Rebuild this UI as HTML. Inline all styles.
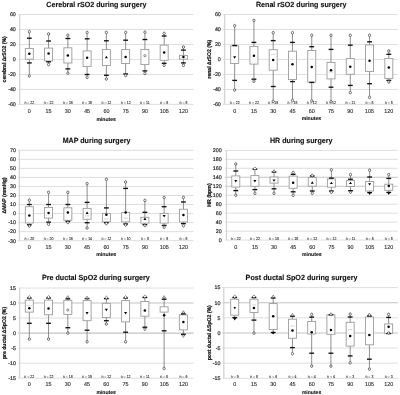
<!DOCTYPE html>
<html><head><meta charset="utf-8"><title>Box plots during surgery</title>
<style>
html,body{margin:0;padding:0;background:#fff;}
body{width:400px;height:395px;overflow:hidden;}
svg{display:block;filter:blur(0.35px);}
text{font-family:"Liberation Sans", Arial, sans-serif;text-rendering:geometricPrecision;}
.tt{font-size:7.5px;font-weight:bold;text-anchor:start;fill:#111;stroke:#111;stroke-width:0.12px;}
.yl{font-size:5.3px;text-anchor:end;fill:#2a2a2a;stroke:#2a2a2a;stroke-width:0.2px;}
.xl{font-size:5.8px;text-anchor:middle;fill:#2a2a2a;stroke:#2a2a2a;stroke-width:0.12px;}
.nl{font-size:4.2px;text-anchor:middle;fill:#444;stroke:#444;stroke-width:0.15px;}
.mn{font-size:5.3px;font-weight:bold;text-anchor:start;fill:#111;stroke:#111;stroke-width:0.1px;}
.yt{font-size:5.5px;font-weight:bold;text-anchor:start;fill:#111;stroke:#111;stroke-width:0.2px;}
</style></head>
<body>
<svg width="400" height="395" viewBox="0 0 400 395">
<rect width="400" height="395" fill="#fff"/>
<line x1="18.1" y1="14.5" x2="193.3" y2="14.5" stroke="#dadada" stroke-width="0.9"/>
<text x="15.8" y="16.3" class="yl">60</text>
<line x1="18.1" y1="29.48" x2="193.3" y2="29.48" stroke="#dadada" stroke-width="0.9"/>
<text x="15.8" y="31.28" class="yl">40</text>
<line x1="18.1" y1="44.47" x2="193.3" y2="44.47" stroke="#dadada" stroke-width="0.9"/>
<text x="15.8" y="46.27" class="yl">20</text>
<line x1="18.1" y1="59.45" x2="193.3" y2="59.45" stroke="#dadada" stroke-width="0.9"/>
<text x="15.8" y="61.25" class="yl">0</text>
<line x1="18.1" y1="74.43" x2="193.3" y2="74.43" stroke="#dadada" stroke-width="0.9"/>
<text x="15.8" y="76.23" class="yl">-20</text>
<line x1="18.1" y1="89.42" x2="193.3" y2="89.42" stroke="#dadada" stroke-width="0.9"/>
<text x="15.8" y="91.22" class="yl">-40</text>
<line x1="18.1" y1="104.4" x2="193.3" y2="104.4" stroke="#dadada" stroke-width="0.9"/>
<text x="15.8" y="106.2" class="yl">-60</text>
<line x1="19.7" y1="14.5" x2="19.7" y2="104.4" stroke="#d4d4d4" stroke-width="1.3"/>
<line x1="29.33" y1="32.9" x2="29.33" y2="74.7" stroke="#6a6a6a" stroke-width="0.75"/>
<rect x="25.33" y="48.4" width="8" height="10.8" fill="#fff" stroke="#9c9c9c" stroke-width="0.9"/>
<rect x="26.93" y="37.53" width="4.8" height="1.35" fill="#111"/>
<rect x="26.93" y="62.23" width="4.8" height="1.35" fill="#111"/>
<ellipse cx="29.33" cy="31.7" rx="1.1" ry="1.35" fill="#fff" stroke="#3a3a3a" stroke-width="0.7"/>
<ellipse cx="29.33" cy="75.9" rx="1.1" ry="1.35" fill="#fff" stroke="#3a3a3a" stroke-width="0.7"/>
<circle cx="29.33" cy="53.7" r="1.25" fill="#000" stroke="#000" stroke-width="0"/>
<text transform="translate(29.33 113) scale(0.93 1)" class="xl">0</text>
<text transform="translate(29.33 104.2) scale(0.84 1)" class="nl">n = 22</text>
<line x1="48.59" y1="35.2" x2="48.59" y2="63.3" stroke="#6a6a6a" stroke-width="0.75"/>
<rect x="44.59" y="48.1" width="8" height="12.9" fill="#fff" stroke="#9c9c9c" stroke-width="0.9"/>
<rect x="46.19" y="40.33" width="4.8" height="1.35" fill="#111"/>
<rect x="46.19" y="61.13" width="4.8" height="1.35" fill="#111"/>
<ellipse cx="48.59" cy="34" rx="1.1" ry="1.35" fill="#fff" stroke="#3a3a3a" stroke-width="0.7"/>
<ellipse cx="48.59" cy="64.5" rx="1.1" ry="1.35" fill="#fff" stroke="#3a3a3a" stroke-width="0.7"/>
<circle cx="48.59" cy="53.4" r="1.25" fill="#000" stroke="#000" stroke-width="0"/>
<text transform="translate(48.59 113) scale(0.93 1)" class="xl">15</text>
<text transform="translate(48.59 104.2) scale(0.84 1)" class="nl">n = 22</text>
<line x1="67.86" y1="36.4" x2="67.86" y2="72" stroke="#6a6a6a" stroke-width="0.75"/>
<rect x="63.86" y="47.8" width="8" height="15.2" fill="#fff" stroke="#9c9c9c" stroke-width="0.9"/>
<rect x="65.46" y="37.83" width="4.8" height="1.35" fill="#111"/>
<rect x="65.46" y="68.23" width="4.8" height="1.35" fill="#111"/>
<ellipse cx="67.86" cy="35.2" rx="1.1" ry="1.35" fill="#fff" stroke="#3a3a3a" stroke-width="0.7"/>
<ellipse cx="67.86" cy="73.2" rx="1.1" ry="1.35" fill="#fff" stroke="#3a3a3a" stroke-width="0.7"/>
<circle cx="67.86" cy="55.4" r="1.25" fill="#000" stroke="#000" stroke-width="0"/>
<text transform="translate(67.86 113) scale(0.93 1)" class="xl">30</text>
<text transform="translate(67.86 104.2) scale(0.84 1)" class="nl">n = 18</text>
<line x1="87.12" y1="33.7" x2="87.12" y2="76.2" stroke="#6a6a6a" stroke-width="0.75"/>
<rect x="83.12" y="50.9" width="8" height="15.5" fill="#fff" stroke="#9c9c9c" stroke-width="0.9"/>
<rect x="84.72" y="38.13" width="4.8" height="1.35" fill="#111"/>
<rect x="84.72" y="73.83" width="4.8" height="1.35" fill="#111"/>
<ellipse cx="87.12" cy="32.5" rx="1.1" ry="1.35" fill="#fff" stroke="#3a3a3a" stroke-width="0.7"/>
<ellipse cx="87.12" cy="77.4" rx="1.1" ry="1.35" fill="#fff" stroke="#3a3a3a" stroke-width="0.7"/>
<circle cx="87.12" cy="57.7" r="1.25" fill="#000" stroke="#000" stroke-width="0"/>
<text transform="translate(87.12 113) scale(0.93 1)" class="xl">45</text>
<text transform="translate(87.12 104.2) scale(0.84 1)" class="nl">n = 15</text>
<line x1="106.38" y1="33.7" x2="106.38" y2="77.8" stroke="#6a6a6a" stroke-width="0.75"/>
<rect x="102.38" y="49.6" width="8" height="16" fill="#fff" stroke="#9c9c9c" stroke-width="0.9"/>
<rect x="103.98" y="40.13" width="4.8" height="1.35" fill="#111"/>
<rect x="103.98" y="74.63" width="4.8" height="1.35" fill="#111"/>
<ellipse cx="106.38" cy="32.5" rx="1.1" ry="1.35" fill="#fff" stroke="#3a3a3a" stroke-width="0.7"/>
<ellipse cx="106.38" cy="79" rx="1.1" ry="1.35" fill="#fff" stroke="#3a3a3a" stroke-width="0.7"/>
<polygon points="106.38,55.8 104.88,58.2 107.88,58.2" fill="#000" stroke="#000" stroke-width="0"/>
<text transform="translate(106.38 113) scale(0.93 1)" class="xl">60</text>
<text transform="translate(106.38 104.2) scale(0.84 1)" class="nl">n = 12</text>
<line x1="125.65" y1="33.7" x2="125.65" y2="74.3" stroke="#6a6a6a" stroke-width="0.75"/>
<rect x="121.65" y="49.6" width="8" height="13.9" fill="#fff" stroke="#9c9c9c" stroke-width="0.9"/>
<rect x="123.25" y="39.53" width="4.8" height="1.35" fill="#111"/>
<rect x="123.25" y="73.33" width="4.8" height="1.35" fill="#111"/>
<ellipse cx="125.65" cy="32.5" rx="1.1" ry="1.35" fill="#fff" stroke="#3a3a3a" stroke-width="0.7"/>
<ellipse cx="125.65" cy="75.5" rx="1.1" ry="1.35" fill="#fff" stroke="#3a3a3a" stroke-width="0.7"/>
<circle cx="125.65" cy="56.9" r="1.25" fill="#000" stroke="#000" stroke-width="0"/>
<text transform="translate(125.65 113) scale(0.93 1)" class="xl">75</text>
<text transform="translate(125.65 104.2) scale(0.84 1)" class="nl">n = 12</text>
<line x1="144.91" y1="33.4" x2="144.91" y2="72.3" stroke="#6a6a6a" stroke-width="0.75"/>
<rect x="140.91" y="49.6" width="8" height="14.8" fill="#fff" stroke="#9c9c9c" stroke-width="0.9"/>
<rect x="142.51" y="38.83" width="4.8" height="1.35" fill="#111"/>
<rect x="142.51" y="70.23" width="4.8" height="1.35" fill="#111"/>
<ellipse cx="144.91" cy="32.2" rx="1.1" ry="1.35" fill="#fff" stroke="#3a3a3a" stroke-width="0.7"/>
<ellipse cx="144.91" cy="73.5" rx="1.1" ry="1.35" fill="#fff" stroke="#3a3a3a" stroke-width="0.7"/>
<circle cx="144.91" cy="55.7" r="1.1" fill="#fff" stroke="#444" stroke-width="0.6"/>
<text transform="translate(144.91 113) scale(0.93 1)" class="xl">90</text>
<text transform="translate(144.91 104.2) scale(0.84 1)" class="nl">n = 11</text>
<line x1="164.17" y1="34.6" x2="164.17" y2="64.1" stroke="#6a6a6a" stroke-width="0.75"/>
<rect x="160.17" y="45.1" width="8" height="15.2" fill="#fff" stroke="#9c9c9c" stroke-width="0.9"/>
<rect x="161.77" y="35.33" width="4.8" height="1.35" fill="#111"/>
<rect x="161.77" y="62.63" width="4.8" height="1.35" fill="#111"/>
<ellipse cx="164.17" cy="33.4" rx="1.1" ry="1.35" fill="#fff" stroke="#3a3a3a" stroke-width="0.7"/>
<ellipse cx="164.17" cy="65.3" rx="1.1" ry="1.35" fill="#fff" stroke="#3a3a3a" stroke-width="0.7"/>
<circle cx="164.17" cy="52.4" r="1.25" fill="#000" stroke="#000" stroke-width="0"/>
<text transform="translate(164.17 113) scale(0.93 1)" class="xl">105</text>
<text transform="translate(164.17 104.2) scale(0.84 1)" class="nl">n = 8</text>
<line x1="183.43" y1="48.2" x2="183.43" y2="64.1" stroke="#6a6a6a" stroke-width="0.75"/>
<rect x="179.43" y="55.4" width="8" height="3.8" fill="#fff" stroke="#9c9c9c" stroke-width="0.9"/>
<rect x="181.03" y="49.43" width="4.8" height="1.35" fill="#111"/>
<rect x="181.03" y="62.23" width="4.8" height="1.35" fill="#111"/>
<ellipse cx="183.43" cy="47" rx="1.1" ry="1.35" fill="#fff" stroke="#3a3a3a" stroke-width="0.7"/>
<ellipse cx="183.43" cy="65.3" rx="1.1" ry="1.35" fill="#fff" stroke="#3a3a3a" stroke-width="0.7"/>
<circle cx="183.43" cy="56.9" r="1.25" fill="#000" stroke="#000" stroke-width="0"/>
<text transform="translate(183.43 113) scale(0.93 1)" class="xl">120</text>
<text transform="translate(183.43 104.2) scale(0.84 1)" class="nl">n = 5</text>
<text id="tt1" x="46.36" y="6.87" class="tt" textLength="100.06" lengthAdjust="spacingAndGlyphs">Cerebral rSO2 during surgery</text>
<text id="mn1" x="96.45" y="120.63" class="mn" textLength="19.42" lengthAdjust="spacingAndGlyphs">minutes</text>
<text id="yt1" transform="translate(5.5 82.38) rotate(-90)" x="0" y="0" class="yt" textLength="46.06" lengthAdjust="spacingAndGlyphs">cerebral ΔrSO2 (%)</text>
<line x1="223" y1="14.5" x2="397.7" y2="14.5" stroke="#dadada" stroke-width="0.9"/>
<text x="220.8" y="16.3" class="yl">60</text>
<line x1="223" y1="29.48" x2="397.7" y2="29.48" stroke="#dadada" stroke-width="0.9"/>
<text x="220.8" y="31.28" class="yl">40</text>
<line x1="223" y1="44.47" x2="397.7" y2="44.47" stroke="#dadada" stroke-width="0.9"/>
<text x="220.8" y="46.27" class="yl">20</text>
<line x1="223" y1="59.45" x2="397.7" y2="59.45" stroke="#dadada" stroke-width="0.9"/>
<text x="220.8" y="61.25" class="yl">0</text>
<line x1="223" y1="74.43" x2="397.7" y2="74.43" stroke="#dadada" stroke-width="0.9"/>
<text x="220.8" y="76.23" class="yl">-20</text>
<line x1="223" y1="89.42" x2="397.7" y2="89.42" stroke="#dadada" stroke-width="0.9"/>
<text x="220.8" y="91.22" class="yl">-40</text>
<line x1="223" y1="104.4" x2="397.7" y2="104.4" stroke="#dadada" stroke-width="0.9"/>
<text x="220.8" y="106.2" class="yl">-60</text>
<line x1="224.6" y1="14.5" x2="224.6" y2="104.4" stroke="#d4d4d4" stroke-width="1.3"/>
<line x1="234.66" y1="26.9" x2="234.66" y2="88.8" stroke="#6a6a6a" stroke-width="0.75"/>
<rect x="230.66" y="45.9" width="8" height="17.6" fill="#fff" stroke="#9c9c9c" stroke-width="0.9"/>
<rect x="232.26" y="44.83" width="4.8" height="1.35" fill="#111"/>
<rect x="232.26" y="79.73" width="4.8" height="1.35" fill="#111"/>
<ellipse cx="234.66" cy="25.7" rx="1.1" ry="1.35" fill="#fff" stroke="#3a3a3a" stroke-width="0.7"/>
<ellipse cx="234.66" cy="90" rx="1.1" ry="1.35" fill="#fff" stroke="#3a3a3a" stroke-width="0.7"/>
<polygon points="234.66,58.7 233.16,56.3 236.16,56.3" fill="#000" stroke="#000" stroke-width="0"/>
<text transform="translate(234.66 113) scale(0.93 1)" class="xl">0</text>
<text transform="translate(234.66 104.2) scale(0.84 1)" class="nl">n = 22</text>
<line x1="253.93" y1="21.6" x2="253.93" y2="80" stroke="#6a6a6a" stroke-width="0.75"/>
<rect x="249.93" y="46.4" width="8" height="17.7" fill="#fff" stroke="#9c9c9c" stroke-width="0.9"/>
<rect x="251.53" y="41.73" width="4.8" height="1.35" fill="#111"/>
<rect x="251.53" y="78.53" width="4.8" height="1.35" fill="#111"/>
<ellipse cx="253.93" cy="20.4" rx="1.1" ry="1.35" fill="#fff" stroke="#3a3a3a" stroke-width="0.7"/>
<ellipse cx="253.93" cy="81.2" rx="1.1" ry="1.35" fill="#fff" stroke="#3a3a3a" stroke-width="0.7"/>
<circle cx="253.93" cy="55.8" r="1.25" fill="#000" stroke="#000" stroke-width="0"/>
<text transform="translate(253.93 113) scale(0.93 1)" class="xl">15</text>
<text transform="translate(253.93 104.2) scale(0.84 1)" class="nl">n = 22</text>
<line x1="273.2" y1="33.9" x2="273.2" y2="100.2" stroke="#6a6a6a" stroke-width="0.75"/>
<rect x="269.2" y="49.7" width="8" height="20.5" fill="#fff" stroke="#9c9c9c" stroke-width="0.9"/>
<line x1="271" y1="54.3" x2="275.4" y2="54.3" stroke="#b5b5b5" stroke-width="0.6"/>
<rect x="270.8" y="39.93" width="4.8" height="1.35" fill="#111"/>
<rect x="270.8" y="85.83" width="4.8" height="1.35" fill="#111"/>
<ellipse cx="273.2" cy="32.7" rx="1.1" ry="1.35" fill="#fff" stroke="#3a3a3a" stroke-width="0.7"/>
<ellipse cx="273.2" cy="101.4" rx="1.1" ry="1.35" fill="#fff" stroke="#3a3a3a" stroke-width="0.7"/>
<circle cx="273.2" cy="59.9" r="1.25" fill="#000" stroke="#000" stroke-width="0"/>
<text transform="translate(273.2 113) scale(0.93 1)" class="xl">30</text>
<text transform="translate(273.2 104.2) scale(0.84 1)" class="nl">n = 18</text>
<line x1="292.47" y1="33.9" x2="292.47" y2="99.3" stroke="#6a6a6a" stroke-width="0.75"/>
<rect x="288.47" y="51.2" width="8" height="28.4" fill="#fff" stroke="#9c9c9c" stroke-width="0.9"/>
<line x1="290.27" y1="59.3" x2="294.67" y2="59.3" stroke="#b5b5b5" stroke-width="0.6"/>
<rect x="290.07" y="41.73" width="4.8" height="1.35" fill="#111"/>
<rect x="290.07" y="80.93" width="4.8" height="1.35" fill="#111"/>
<ellipse cx="292.47" cy="32.7" rx="1.1" ry="1.35" fill="#fff" stroke="#3a3a3a" stroke-width="0.7"/>
<ellipse cx="292.47" cy="100.5" rx="1.1" ry="1.35" fill="#fff" stroke="#3a3a3a" stroke-width="0.7"/>
<circle cx="292.47" cy="64.2" r="1.25" fill="#000" stroke="#000" stroke-width="0"/>
<text transform="translate(292.47 113) scale(0.93 1)" class="xl">45</text>
<text transform="translate(292.47 104.2) scale(0.84 1)" class="nl">n = 15</text>
<line x1="311.74" y1="36.5" x2="311.74" y2="99.7" stroke="#6a6a6a" stroke-width="0.75"/>
<rect x="307.74" y="50.5" width="8" height="31.7" fill="#fff" stroke="#9c9c9c" stroke-width="0.9"/>
<line x1="309.54" y1="59.3" x2="313.94" y2="59.3" stroke="#b5b5b5" stroke-width="0.6"/>
<rect x="309.34" y="46.03" width="4.8" height="1.35" fill="#111"/>
<rect x="309.34" y="81.73" width="4.8" height="1.35" fill="#111"/>
<ellipse cx="311.74" cy="35.3" rx="1.1" ry="1.35" fill="#fff" stroke="#3a3a3a" stroke-width="0.7"/>
<ellipse cx="311.74" cy="100.9" rx="1.1" ry="1.35" fill="#fff" stroke="#3a3a3a" stroke-width="0.7"/>
<circle cx="311.74" cy="66.9" r="1.25" fill="#000" stroke="#000" stroke-width="0"/>
<text transform="translate(311.74 113) scale(0.93 1)" class="xl">60</text>
<text transform="translate(311.74 104.2) scale(0.84 1)" class="nl">n = 12</text>
<line x1="331.01" y1="36.5" x2="331.01" y2="100.5" stroke="#6a6a6a" stroke-width="0.75"/>
<rect x="327.01" y="62.4" width="8" height="16.5" fill="#fff" stroke="#9c9c9c" stroke-width="0.9"/>
<line x1="328.81" y1="72" x2="333.21" y2="72" stroke="#b5b5b5" stroke-width="0.6"/>
<rect x="328.61" y="48.73" width="4.8" height="1.35" fill="#111"/>
<rect x="328.61" y="86.53" width="4.8" height="1.35" fill="#111"/>
<ellipse cx="331.01" cy="35.3" rx="1.1" ry="1.35" fill="#fff" stroke="#3a3a3a" stroke-width="0.7"/>
<ellipse cx="331.01" cy="101.7" rx="1.1" ry="1.35" fill="#fff" stroke="#3a3a3a" stroke-width="0.7"/>
<circle cx="331.01" cy="70.2" r="1.25" fill="#000" stroke="#000" stroke-width="0"/>
<text transform="translate(331.01 113) scale(0.93 1)" class="xl">75</text>
<text transform="translate(331.01 104.2) scale(0.84 1)" class="nl">n = 12</text>
<line x1="350.28" y1="36.5" x2="350.28" y2="91.4" stroke="#6a6a6a" stroke-width="0.75"/>
<rect x="346.28" y="58.6" width="8" height="15.7" fill="#fff" stroke="#9c9c9c" stroke-width="0.9"/>
<rect x="347.88" y="44.53" width="4.8" height="1.35" fill="#111"/>
<rect x="347.88" y="84.73" width="4.8" height="1.35" fill="#111"/>
<ellipse cx="350.28" cy="35.3" rx="1.1" ry="1.35" fill="#fff" stroke="#3a3a3a" stroke-width="0.7"/>
<ellipse cx="350.28" cy="92.6" rx="1.1" ry="1.35" fill="#fff" stroke="#3a3a3a" stroke-width="0.7"/>
<circle cx="350.28" cy="66.7" r="1.25" fill="#000" stroke="#000" stroke-width="0"/>
<text transform="translate(350.28 113) scale(0.93 1)" class="xl">90</text>
<text transform="translate(350.28 104.2) scale(0.84 1)" class="nl">n = 11</text>
<line x1="369.55" y1="36.5" x2="369.55" y2="96.2" stroke="#6a6a6a" stroke-width="0.75"/>
<rect x="365.55" y="44.9" width="8" height="26.5" fill="#fff" stroke="#9c9c9c" stroke-width="0.9"/>
<rect x="367.15" y="41.13" width="4.8" height="1.35" fill="#111"/>
<rect x="367.15" y="83.03" width="4.8" height="1.35" fill="#111"/>
<ellipse cx="369.55" cy="35.3" rx="1.1" ry="1.35" fill="#fff" stroke="#3a3a3a" stroke-width="0.7"/>
<ellipse cx="369.55" cy="97.4" rx="1.1" ry="1.35" fill="#fff" stroke="#3a3a3a" stroke-width="0.7"/>
<circle cx="369.55" cy="60.7" r="1.25" fill="#000" stroke="#000" stroke-width="0"/>
<text transform="translate(369.55 113) scale(0.93 1)" class="xl">105</text>
<text transform="translate(369.55 104.2) scale(0.84 1)" class="nl">n = 8</text>
<line x1="388.82" y1="52.2" x2="388.82" y2="80.7" stroke="#6a6a6a" stroke-width="0.75"/>
<rect x="384.82" y="58.6" width="8" height="19.8" fill="#fff" stroke="#9c9c9c" stroke-width="0.9"/>
<rect x="386.42" y="53.63" width="4.8" height="1.35" fill="#111"/>
<rect x="386.42" y="79.73" width="4.8" height="1.35" fill="#111"/>
<ellipse cx="388.82" cy="51" rx="1.1" ry="1.35" fill="#fff" stroke="#3a3a3a" stroke-width="0.7"/>
<ellipse cx="388.82" cy="81.9" rx="1.1" ry="1.35" fill="#fff" stroke="#3a3a3a" stroke-width="0.7"/>
<circle cx="388.82" cy="67.5" r="1.25" fill="#000" stroke="#000" stroke-width="0"/>
<text transform="translate(388.82 113) scale(0.93 1)" class="xl">120</text>
<text transform="translate(388.82 104.2) scale(0.84 1)" class="nl">n = 5</text>
<text id="tt2" x="255.94" y="7.11" class="tt" textLength="90.61" lengthAdjust="spacingAndGlyphs">Renal rSO2 during surgery</text>
<text id="mn2" x="301.63" y="119.81" class="mn" textLength="19.59" lengthAdjust="spacingAndGlyphs">minutes</text>
<text id="yt2" transform="translate(211.2 78.57) rotate(-90)" x="0" y="0" class="yt" textLength="38.67" lengthAdjust="spacingAndGlyphs">renal ΔrSO2 (%)</text>
<line x1="17.8" y1="150.3" x2="193.3" y2="150.3" stroke="#dadada" stroke-width="0.9"/>
<text x="16" y="152.1" class="yl">70</text>
<line x1="17.8" y1="159.34" x2="193.3" y2="159.34" stroke="#dadada" stroke-width="0.9"/>
<text x="16" y="161.14" class="yl">60</text>
<line x1="17.8" y1="168.38" x2="193.3" y2="168.38" stroke="#dadada" stroke-width="0.9"/>
<text x="16" y="170.18" class="yl">50</text>
<line x1="17.8" y1="177.42" x2="193.3" y2="177.42" stroke="#dadada" stroke-width="0.9"/>
<text x="16" y="179.22" class="yl">40</text>
<line x1="17.8" y1="186.46" x2="193.3" y2="186.46" stroke="#dadada" stroke-width="0.9"/>
<text x="16" y="188.26" class="yl">30</text>
<line x1="17.8" y1="195.5" x2="193.3" y2="195.5" stroke="#dadada" stroke-width="0.9"/>
<text x="16" y="197.3" class="yl">20</text>
<line x1="17.8" y1="204.54" x2="193.3" y2="204.54" stroke="#dadada" stroke-width="0.9"/>
<text x="16" y="206.34" class="yl">10</text>
<line x1="17.8" y1="213.58" x2="193.3" y2="213.58" stroke="#dadada" stroke-width="0.9"/>
<text x="16" y="215.38" class="yl">0</text>
<line x1="17.8" y1="222.62" x2="193.3" y2="222.62" stroke="#dadada" stroke-width="0.9"/>
<text x="16" y="224.42" class="yl">-10</text>
<line x1="17.8" y1="231.66" x2="193.3" y2="231.66" stroke="#dadada" stroke-width="0.9"/>
<text x="16" y="233.46" class="yl">-20</text>
<line x1="17.8" y1="240.7" x2="193.3" y2="240.7" stroke="#dadada" stroke-width="0.9"/>
<text x="16" y="242.5" class="yl">-30</text>
<line x1="19.4" y1="150.3" x2="19.4" y2="240.7" stroke="#d4d4d4" stroke-width="1.3"/>
<line x1="29.33" y1="201.4" x2="29.33" y2="224.8" stroke="#6a6a6a" stroke-width="0.75"/>
<rect x="25.33" y="206.7" width="8" height="16.3" fill="#fff" stroke="#9c9c9c" stroke-width="0.9"/>
<rect x="26.93" y="203.83" width="4.8" height="1.35" fill="#111"/>
<rect x="26.93" y="224.13" width="4.8" height="1.35" fill="#111"/>
<ellipse cx="29.33" cy="200.2" rx="1.1" ry="1.35" fill="#fff" stroke="#3a3a3a" stroke-width="0.7"/>
<ellipse cx="29.33" cy="226" rx="1.1" ry="1.35" fill="#fff" stroke="#3a3a3a" stroke-width="0.7"/>
<circle cx="29.33" cy="215.4" r="1.25" fill="#000" stroke="#000" stroke-width="0"/>
<text transform="translate(29.33 248.8) scale(0.93 1)" class="xl">0</text>
<text transform="translate(29.33 240) scale(0.84 1)" class="nl">n = 20</text>
<line x1="48.59" y1="193.5" x2="48.59" y2="223" stroke="#6a6a6a" stroke-width="0.75"/>
<rect x="44.59" y="207.5" width="8" height="10.6" fill="#fff" stroke="#9c9c9c" stroke-width="0.9"/>
<rect x="46.19" y="203.83" width="4.8" height="1.35" fill="#111"/>
<rect x="46.19" y="221.53" width="4.8" height="1.35" fill="#111"/>
<ellipse cx="48.59" cy="192.3" rx="1.1" ry="1.35" fill="#fff" stroke="#3a3a3a" stroke-width="0.7"/>
<ellipse cx="48.59" cy="224.2" rx="1.1" ry="1.35" fill="#fff" stroke="#3a3a3a" stroke-width="0.7"/>
<circle cx="48.59" cy="213.1" r="1.25" fill="#000" stroke="#000" stroke-width="0"/>
<text transform="translate(48.59 248.8) scale(0.93 1)" class="xl">15</text>
<text transform="translate(48.59 240) scale(0.84 1)" class="nl">n = 20</text>
<line x1="67.85" y1="193.5" x2="67.85" y2="221.3" stroke="#6a6a6a" stroke-width="0.75"/>
<rect x="63.85" y="207.8" width="8" height="12.5" fill="#fff" stroke="#9c9c9c" stroke-width="0.9"/>
<rect x="65.45" y="203.83" width="4.8" height="1.35" fill="#111"/>
<rect x="65.45" y="220.83" width="4.8" height="1.35" fill="#111"/>
<ellipse cx="67.85" cy="192.3" rx="1.1" ry="1.35" fill="#fff" stroke="#3a3a3a" stroke-width="0.7"/>
<ellipse cx="67.85" cy="222.5" rx="1.1" ry="1.35" fill="#fff" stroke="#3a3a3a" stroke-width="0.7"/>
<circle cx="67.85" cy="212.4" r="1.25" fill="#000" stroke="#000" stroke-width="0"/>
<text transform="translate(67.85 248.8) scale(0.93 1)" class="xl">30</text>
<text transform="translate(67.85 240) scale(0.84 1)" class="nl">n = 18</text>
<line x1="87.11" y1="184.8" x2="87.11" y2="226.8" stroke="#6a6a6a" stroke-width="0.75"/>
<rect x="83.11" y="208.4" width="8" height="10.9" fill="#fff" stroke="#9c9c9c" stroke-width="0.9"/>
<line x1="84.91" y1="215.8" x2="89.31" y2="215.8" stroke="#b5b5b5" stroke-width="0.6"/>
<rect x="84.71" y="201.73" width="4.8" height="1.35" fill="#111"/>
<rect x="84.71" y="222.03" width="4.8" height="1.35" fill="#111"/>
<ellipse cx="87.11" cy="183.6" rx="1.1" ry="1.35" fill="#fff" stroke="#3a3a3a" stroke-width="0.7"/>
<ellipse cx="87.11" cy="228" rx="1.1" ry="1.35" fill="#fff" stroke="#3a3a3a" stroke-width="0.7"/>
<polygon points="87.11,211.5 85.61,213.9 88.61,213.9" fill="#000" stroke="#000" stroke-width="0"/>
<text transform="translate(87.11 248.8) scale(0.93 1)" class="xl">45</text>
<text transform="translate(87.11 240) scale(0.84 1)" class="nl">n = 14</text>
<line x1="106.37" y1="180.5" x2="106.37" y2="222.3" stroke="#6a6a6a" stroke-width="0.75"/>
<rect x="102.37" y="213.4" width="8" height="8.5" fill="#fff" stroke="#9c9c9c" stroke-width="0.9"/>
<line x1="104.17" y1="218.9" x2="108.57" y2="218.9" stroke="#b5b5b5" stroke-width="0.6"/>
<rect x="103.97" y="207.23" width="4.8" height="1.35" fill="#111"/>
<rect x="103.97" y="222.03" width="4.8" height="1.35" fill="#111"/>
<ellipse cx="106.37" cy="179.3" rx="1.1" ry="1.35" fill="#fff" stroke="#3a3a3a" stroke-width="0.7"/>
<ellipse cx="106.37" cy="223.5" rx="1.1" ry="1.35" fill="#fff" stroke="#3a3a3a" stroke-width="0.7"/>
<circle cx="106.37" cy="214.7" r="1.25" fill="#000" stroke="#000" stroke-width="0"/>
<text transform="translate(106.37 248.8) scale(0.93 1)" class="xl">60</text>
<text transform="translate(106.37 240) scale(0.84 1)" class="nl">n = 12</text>
<line x1="125.63" y1="183.2" x2="125.63" y2="223.8" stroke="#6a6a6a" stroke-width="0.75"/>
<rect x="121.63" y="212.5" width="8" height="9.4" fill="#fff" stroke="#9c9c9c" stroke-width="0.9"/>
<line x1="123.43" y1="218.1" x2="127.83" y2="218.1" stroke="#b5b5b5" stroke-width="0.6"/>
<rect x="123.23" y="187.73" width="4.8" height="1.35" fill="#111"/>
<rect x="123.23" y="223.33" width="4.8" height="1.35" fill="#111"/>
<ellipse cx="125.63" cy="182" rx="1.1" ry="1.35" fill="#fff" stroke="#3a3a3a" stroke-width="0.7"/>
<ellipse cx="125.63" cy="225" rx="1.1" ry="1.35" fill="#fff" stroke="#3a3a3a" stroke-width="0.7"/>
<circle cx="125.63" cy="212.6" r="1.25" fill="#000" stroke="#000" stroke-width="0"/>
<text transform="translate(125.63 248.8) scale(0.93 1)" class="xl">75</text>
<text transform="translate(125.63 240) scale(0.84 1)" class="nl">n = 10</text>
<line x1="144.89" y1="201.6" x2="144.89" y2="224.3" stroke="#6a6a6a" stroke-width="0.75"/>
<rect x="140.89" y="217.3" width="8" height="5.8" fill="#fff" stroke="#9c9c9c" stroke-width="0.9"/>
<rect x="142.49" y="211.63" width="4.8" height="1.35" fill="#111"/>
<rect x="142.49" y="223.93" width="4.8" height="1.35" fill="#111"/>
<ellipse cx="144.89" cy="200.4" rx="1.1" ry="1.35" fill="#fff" stroke="#3a3a3a" stroke-width="0.7"/>
<ellipse cx="144.89" cy="225.5" rx="1.1" ry="1.35" fill="#fff" stroke="#3a3a3a" stroke-width="0.7"/>
<polygon points="144.89,217.6 143.39,220 146.39,220" fill="#000" stroke="#000" stroke-width="0"/>
<text transform="translate(144.89 248.8) scale(0.93 1)" class="xl">90</text>
<text transform="translate(144.89 240) scale(0.84 1)" class="nl">n = 8</text>
<line x1="164.15" y1="198.6" x2="164.15" y2="226" stroke="#6a6a6a" stroke-width="0.75"/>
<rect x="160.15" y="213.4" width="8" height="9.7" fill="#fff" stroke="#9c9c9c" stroke-width="0.9"/>
<rect x="161.75" y="206.03" width="4.8" height="1.35" fill="#111"/>
<rect x="161.75" y="224.73" width="4.8" height="1.35" fill="#111"/>
<ellipse cx="164.15" cy="197.4" rx="1.1" ry="1.35" fill="#fff" stroke="#3a3a3a" stroke-width="0.7"/>
<ellipse cx="164.15" cy="227.2" rx="1.1" ry="1.35" fill="#fff" stroke="#3a3a3a" stroke-width="0.7"/>
<polygon points="164.15,217.5 162.65,215.1 165.65,215.1" fill="#000" stroke="#000" stroke-width="0"/>
<text transform="translate(164.15 248.8) scale(0.93 1)" class="xl">105</text>
<text transform="translate(164.15 240) scale(0.84 1)" class="nl">n = 8</text>
<line x1="183.41" y1="198.6" x2="183.41" y2="224.5" stroke="#6a6a6a" stroke-width="0.75"/>
<rect x="179.41" y="209.2" width="8" height="12.8" fill="#fff" stroke="#9c9c9c" stroke-width="0.9"/>
<rect x="181.01" y="201.33" width="4.8" height="1.35" fill="#111"/>
<rect x="181.01" y="222.93" width="4.8" height="1.35" fill="#111"/>
<ellipse cx="183.41" cy="197.4" rx="1.1" ry="1.35" fill="#fff" stroke="#3a3a3a" stroke-width="0.7"/>
<ellipse cx="183.41" cy="225.7" rx="1.1" ry="1.35" fill="#fff" stroke="#3a3a3a" stroke-width="0.7"/>
<circle cx="183.41" cy="215.1" r="1.25" fill="#000" stroke="#000" stroke-width="0"/>
<text transform="translate(183.41 248.8) scale(0.93 1)" class="xl">120</text>
<text transform="translate(183.41 240) scale(0.84 1)" class="nl">n = 5</text>
<text id="tt3" x="62.7" y="142.9" class="tt" textLength="67.65" lengthAdjust="spacingAndGlyphs">MAP during surgery</text>
<text id="mn3" x="96.21" y="255.88" class="mn" textLength="20.06" lengthAdjust="spacingAndGlyphs">minutes</text>
<text id="yt3" transform="translate(6.02 213.49) rotate(-90)" x="0" y="0" class="yt" textLength="36.07" lengthAdjust="spacingAndGlyphs">ΔMAP (mmHg)</text>
<line x1="224.9" y1="150.4" x2="397.7" y2="150.4" stroke="#dadada" stroke-width="0.9"/>
<text x="221.7" y="152.2" class="yl">200</text>
<line x1="224.9" y1="159.37" x2="397.7" y2="159.37" stroke="#dadada" stroke-width="0.9"/>
<text x="221.7" y="161.17" class="yl">180</text>
<line x1="224.9" y1="168.34" x2="397.7" y2="168.34" stroke="#dadada" stroke-width="0.9"/>
<text x="221.7" y="170.14" class="yl">160</text>
<line x1="224.9" y1="177.31" x2="397.7" y2="177.31" stroke="#c4c4c4" stroke-width="1.05"/>
<text x="221.7" y="179.11" class="yl">140</text>
<line x1="224.9" y1="186.28" x2="397.7" y2="186.28" stroke="#c4c4c4" stroke-width="1.05"/>
<text x="221.7" y="188.08" class="yl">120</text>
<line x1="224.9" y1="195.25" x2="397.7" y2="195.25" stroke="#dadada" stroke-width="0.9"/>
<text x="221.7" y="197.05" class="yl">100</text>
<line x1="224.9" y1="204.22" x2="397.7" y2="204.22" stroke="#dadada" stroke-width="0.9"/>
<text x="221.7" y="206.02" class="yl">80</text>
<line x1="224.9" y1="213.19" x2="397.7" y2="213.19" stroke="#dadada" stroke-width="0.9"/>
<text x="221.7" y="214.99" class="yl">60</text>
<line x1="224.9" y1="222.16" x2="397.7" y2="222.16" stroke="#dadada" stroke-width="0.9"/>
<text x="221.7" y="223.96" class="yl">40</text>
<line x1="224.9" y1="231.13" x2="397.7" y2="231.13" stroke="#dadada" stroke-width="0.9"/>
<text x="221.7" y="232.93" class="yl">20</text>
<line x1="224.9" y1="240.1" x2="397.7" y2="240.1" stroke="#dadada" stroke-width="0.9"/>
<text x="221.7" y="241.9" class="yl">0</text>
<line x1="226.5" y1="150.4" x2="226.5" y2="240.1" stroke="#d4d4d4" stroke-width="1.3"/>
<line x1="235.79" y1="165.2" x2="235.79" y2="194" stroke="#6a6a6a" stroke-width="0.75"/>
<rect x="231.79" y="175.9" width="8" height="11.1" fill="#fff" stroke="#9c9c9c" stroke-width="0.9"/>
<rect x="233.39" y="170.33" width="4.8" height="1.35" fill="#111"/>
<rect x="233.39" y="189.93" width="4.8" height="1.35" fill="#111"/>
<ellipse cx="235.79" cy="164" rx="1.1" ry="1.35" fill="#fff" stroke="#3a3a3a" stroke-width="0.7"/>
<ellipse cx="235.79" cy="195.2" rx="1.1" ry="1.35" fill="#fff" stroke="#3a3a3a" stroke-width="0.7"/>
<polygon points="235.79,182.5 234.29,180.1 237.29,180.1" fill="#000" stroke="#000" stroke-width="0"/>
<text transform="translate(235.79 248.7) scale(0.93 1)" class="xl">0</text>
<text transform="translate(235.79 239.5) scale(0.84 1)" class="nl">n = 22</text>
<line x1="254.91" y1="169.7" x2="254.91" y2="192.1" stroke="#6a6a6a" stroke-width="0.75"/>
<rect x="250.91" y="175.6" width="8" height="10.7" fill="#fff" stroke="#9c9c9c" stroke-width="0.9"/>
<rect x="252.51" y="168.53" width="4.8" height="1.35" fill="#111"/>
<rect x="252.51" y="188.93" width="4.8" height="1.35" fill="#111"/>
<polygon points="254.91,167 256.51,168.5 254.91,170 253.31,168.5" fill="#fff" stroke="#444" stroke-width="0.6"/>
<ellipse cx="254.91" cy="193.3" rx="1.1" ry="1.35" fill="#fff" stroke="#3a3a3a" stroke-width="0.7"/>
<polygon points="254.91,182.4 253.41,180 256.41,180" fill="#000" stroke="#000" stroke-width="0"/>
<text transform="translate(254.91 248.7) scale(0.93 1)" class="xl">15</text>
<text transform="translate(254.91 239.5) scale(0.84 1)" class="nl">n = 22</text>
<line x1="274.03" y1="172.2" x2="274.03" y2="192.1" stroke="#6a6a6a" stroke-width="0.75"/>
<rect x="270.03" y="177" width="8" height="6.1" fill="#fff" stroke="#9c9c9c" stroke-width="0.9"/>
<rect x="271.63" y="171.33" width="4.8" height="1.35" fill="#111"/>
<rect x="271.63" y="188.13" width="4.8" height="1.35" fill="#111"/>
<polygon points="274.03,169.6 272.53,172 275.53,172" fill="#fff" stroke="#444" stroke-width="0.6"/>
<ellipse cx="274.03" cy="193.3" rx="1.1" ry="1.35" fill="#fff" stroke="#3a3a3a" stroke-width="0.7"/>
<polygon points="274.03,181.8 272.53,179.4 275.53,179.4" fill="#000" stroke="#000" stroke-width="0"/>
<text transform="translate(274.03 248.7) scale(0.93 1)" class="xl">30</text>
<text transform="translate(274.03 239.5) scale(0.84 1)" class="nl">n = 18</text>
<line x1="293.15" y1="173.7" x2="293.15" y2="194.1" stroke="#6a6a6a" stroke-width="0.75"/>
<rect x="289.15" y="176.1" width="8" height="12.2" fill="#fff" stroke="#9c9c9c" stroke-width="0.9"/>
<rect x="290.75" y="173.63" width="4.8" height="1.35" fill="#111"/>
<rect x="290.75" y="191.13" width="4.8" height="1.35" fill="#111"/>
<ellipse cx="293.15" cy="172.5" rx="1.1" ry="1.35" fill="#fff" stroke="#3a3a3a" stroke-width="0.7"/>
<ellipse cx="293.15" cy="195.3" rx="1.1" ry="1.35" fill="#fff" stroke="#3a3a3a" stroke-width="0.7"/>
<circle cx="293.15" cy="182.7" r="1.25" fill="#000" stroke="#000" stroke-width="0"/>
<text transform="translate(293.15 248.7) scale(0.93 1)" class="xl">45</text>
<text transform="translate(293.15 239.5) scale(0.84 1)" class="nl">n = 15</text>
<line x1="312.27" y1="176.7" x2="312.27" y2="192.1" stroke="#6a6a6a" stroke-width="0.75"/>
<rect x="308.27" y="177.4" width="8" height="8.8" fill="#fff" stroke="#9c9c9c" stroke-width="0.9"/>
<rect x="309.87" y="175.33" width="4.8" height="1.35" fill="#111"/>
<rect x="309.87" y="190.33" width="4.8" height="1.35" fill="#111"/>
<ellipse cx="312.27" cy="175.5" rx="1.1" ry="1.35" fill="#fff" stroke="#3a3a3a" stroke-width="0.7"/>
<ellipse cx="312.27" cy="193.3" rx="1.1" ry="1.35" fill="#fff" stroke="#3a3a3a" stroke-width="0.7"/>
<polygon points="312.27,181.3 310.77,183.7 313.77,183.7" fill="#000" stroke="#000" stroke-width="0"/>
<text transform="translate(312.27 248.7) scale(0.93 1)" class="xl">60</text>
<text transform="translate(312.27 239.5) scale(0.84 1)" class="nl">n = 12</text>
<line x1="331.39" y1="171" x2="331.39" y2="191" stroke="#6a6a6a" stroke-width="0.75"/>
<rect x="327.39" y="178.9" width="8" height="8.3" fill="#fff" stroke="#9c9c9c" stroke-width="0.9"/>
<rect x="328.99" y="177.43" width="4.8" height="1.35" fill="#111"/>
<rect x="328.99" y="190.33" width="4.8" height="1.35" fill="#111"/>
<ellipse cx="331.39" cy="169.8" rx="1.1" ry="1.35" fill="#fff" stroke="#3a3a3a" stroke-width="0.7"/>
<ellipse cx="331.39" cy="192.2" rx="1.1" ry="1.35" fill="#fff" stroke="#3a3a3a" stroke-width="0.7"/>
<polygon points="331.39,181.7 329.89,184.1 332.89,184.1" fill="#000" stroke="#000" stroke-width="0"/>
<text transform="translate(331.39 248.7) scale(0.93 1)" class="xl">75</text>
<text transform="translate(331.39 239.5) scale(0.84 1)" class="nl">n = 12</text>
<line x1="350.51" y1="175.8" x2="350.51" y2="191.4" stroke="#6a6a6a" stroke-width="0.75"/>
<rect x="346.51" y="180.4" width="8" height="6.1" fill="#fff" stroke="#9c9c9c" stroke-width="0.9"/>
<rect x="348.11" y="178.53" width="4.8" height="1.35" fill="#111"/>
<rect x="348.11" y="190.03" width="4.8" height="1.35" fill="#111"/>
<ellipse cx="350.51" cy="174.6" rx="1.1" ry="1.35" fill="#fff" stroke="#3a3a3a" stroke-width="0.7"/>
<polygon points="350.51,194 349.01,191.6 352.01,191.6" fill="#fff" stroke="#444" stroke-width="0.6"/>
<polygon points="350.51,181.7 349.01,184.1 352.01,184.1" fill="#000" stroke="#000" stroke-width="0"/>
<text transform="translate(350.51 248.7) scale(0.93 1)" class="xl">90</text>
<text transform="translate(350.51 239.5) scale(0.84 1)" class="nl">n = 11</text>
<line x1="369.63" y1="171.4" x2="369.63" y2="192.4" stroke="#6a6a6a" stroke-width="0.75"/>
<rect x="365.63" y="181.5" width="8" height="9.5" fill="#fff" stroke="#9c9c9c" stroke-width="0.9"/>
<rect x="367.23" y="176.33" width="4.8" height="1.35" fill="#111"/>
<rect x="367.23" y="191.93" width="4.8" height="1.35" fill="#111"/>
<ellipse cx="369.63" cy="170.2" rx="1.1" ry="1.35" fill="#fff" stroke="#3a3a3a" stroke-width="0.7"/>
<polygon points="369.63,195 368.13,192.6 371.13,192.6" fill="#000" stroke="#000" stroke-width="0"/>
<polygon points="369.63,185.6 368.13,183.2 371.13,183.2" fill="#000" stroke="#000" stroke-width="0"/>
<text transform="translate(369.63 248.7) scale(0.93 1)" class="xl">105</text>
<text transform="translate(369.63 239.5) scale(0.84 1)" class="nl">n = 8</text>
<line x1="388.75" y1="175.8" x2="388.75" y2="192.4" stroke="#6a6a6a" stroke-width="0.75"/>
<rect x="384.75" y="184.2" width="8" height="6.1" fill="#fff" stroke="#9c9c9c" stroke-width="0.9"/>
<rect x="386.35" y="177.73" width="4.8" height="1.35" fill="#111"/>
<rect x="386.35" y="191.73" width="4.8" height="1.35" fill="#111"/>
<ellipse cx="388.75" cy="174.6" rx="1.1" ry="1.35" fill="#fff" stroke="#3a3a3a" stroke-width="0.7"/>
<polygon points="388.75,195 387.25,192.6 390.25,192.6" fill="#000" stroke="#000" stroke-width="0"/>
<circle cx="388.75" cy="186" r="1.25" fill="#000" stroke="#000" stroke-width="0"/>
<text transform="translate(388.75 248.7) scale(0.93 1)" class="xl">120</text>
<text transform="translate(388.75 239.5) scale(0.84 1)" class="nl">n = 5</text>
<text id="tt4" x="269.94" y="142.73" class="tt" textLength="62.48" lengthAdjust="spacingAndGlyphs">HR during surgery</text>
<text id="mn4" x="301.88" y="255.7" class="mn" textLength="19.77" lengthAdjust="spacingAndGlyphs">minutes</text>
<text id="yt4" transform="translate(211.06 206.74) rotate(-90)" x="0" y="0" class="yt" textLength="23.35" lengthAdjust="spacingAndGlyphs">HR (bpm)</text>
<line x1="18" y1="288" x2="193.5" y2="288" stroke="#dadada" stroke-width="0.9"/>
<text x="16" y="289.8" class="yl">15</text>
<line x1="18" y1="303.03" x2="193.5" y2="303.03" stroke="#c4c4c4" stroke-width="1.05"/>
<text x="16" y="304.83" class="yl">10</text>
<line x1="18" y1="318.07" x2="193.5" y2="318.07" stroke="#dadada" stroke-width="0.9"/>
<text x="16" y="319.87" class="yl">5</text>
<line x1="18" y1="333.1" x2="193.5" y2="333.1" stroke="#c4c4c4" stroke-width="1.05"/>
<text x="16" y="334.9" class="yl">0</text>
<line x1="18" y1="348.13" x2="193.5" y2="348.13" stroke="#dadada" stroke-width="0.9"/>
<text x="16" y="349.93" class="yl">-5</text>
<line x1="18" y1="363.17" x2="193.5" y2="363.17" stroke="#dadada" stroke-width="0.9"/>
<text x="16" y="364.97" class="yl">-10</text>
<line x1="18" y1="378.2" x2="193.5" y2="378.2" stroke="#dadada" stroke-width="0.9"/>
<text x="16" y="380" class="yl">-15</text>
<line x1="19.6" y1="288" x2="19.6" y2="378.2" stroke="#d4d4d4" stroke-width="1.3"/>
<line x1="29.3" y1="298.3" x2="29.3" y2="337.9" stroke="#6a6a6a" stroke-width="0.75"/>
<rect x="25.3" y="300.1" width="8" height="12" fill="#fff" stroke="#9c9c9c" stroke-width="0.9"/>
<line x1="27.1" y1="305.6" x2="31.5" y2="305.6" stroke="#b5b5b5" stroke-width="0.6"/>
<rect x="26.9" y="297.33" width="4.8" height="1.35" fill="#111"/>
<rect x="26.9" y="322.63" width="4.8" height="1.35" fill="#111"/>
<polygon points="29.3,295.6 30.9,297.1 29.3,298.6 27.7,297.1" fill="#fff" stroke="#444" stroke-width="0.6"/>
<ellipse cx="29.3" cy="339.1" rx="1.1" ry="1.35" fill="#fff" stroke="#3a3a3a" stroke-width="0.7"/>
<circle cx="29.3" cy="308.2" r="1.25" fill="#000" stroke="#000" stroke-width="0"/>
<text transform="translate(29.3 386.4) scale(0.93 1)" class="xl">0</text>
<text transform="translate(29.3 377.6) scale(0.84 1)" class="nl">n = 22</text>
<line x1="48.56" y1="298.3" x2="48.56" y2="337.9" stroke="#6a6a6a" stroke-width="0.75"/>
<rect x="44.56" y="300.1" width="8" height="14.7" fill="#fff" stroke="#9c9c9c" stroke-width="0.9"/>
<rect x="46.16" y="297.33" width="4.8" height="1.35" fill="#111"/>
<rect x="46.16" y="322.63" width="4.8" height="1.35" fill="#111"/>
<polygon points="48.56,295.6 50.16,297.1 48.56,298.6 46.96,297.1" fill="#fff" stroke="#444" stroke-width="0.6"/>
<ellipse cx="48.56" cy="339.1" rx="1.1" ry="1.35" fill="#fff" stroke="#3a3a3a" stroke-width="0.7"/>
<circle cx="48.56" cy="308.6" r="1.25" fill="#000" stroke="#000" stroke-width="0"/>
<text transform="translate(48.56 386.4) scale(0.93 1)" class="xl">15</text>
<text transform="translate(48.56 377.6) scale(0.84 1)" class="nl">n = 22</text>
<line x1="67.82" y1="298.3" x2="67.82" y2="331.9" stroke="#6a6a6a" stroke-width="0.75"/>
<rect x="63.82" y="300.3" width="8" height="14.1" fill="#fff" stroke="#9c9c9c" stroke-width="0.9"/>
<rect x="65.42" y="298.13" width="4.8" height="1.35" fill="#111"/>
<rect x="65.42" y="327.03" width="4.8" height="1.35" fill="#111"/>
<polygon points="67.82,295.7 66.32,298.1 69.32,298.1" fill="#fff" stroke="#444" stroke-width="0.6"/>
<ellipse cx="67.82" cy="333.1" rx="1.1" ry="1.35" fill="#fff" stroke="#3a3a3a" stroke-width="0.7"/>
<circle cx="67.82" cy="310" r="1.1" fill="#fff" stroke="#444" stroke-width="0.6"/>
<text transform="translate(67.82 386.4) scale(0.93 1)" class="xl">30</text>
<text transform="translate(67.82 377.6) scale(0.84 1)" class="nl">n = 18</text>
<line x1="87.08" y1="298.8" x2="87.08" y2="340.6" stroke="#6a6a6a" stroke-width="0.75"/>
<rect x="83.08" y="300.6" width="8" height="20.1" fill="#fff" stroke="#9c9c9c" stroke-width="0.9"/>
<rect x="84.68" y="297.93" width="4.8" height="1.35" fill="#111"/>
<rect x="84.68" y="329.53" width="4.8" height="1.35" fill="#111"/>
<polygon points="87.08,296.2 85.58,298.6 88.58,298.6" fill="#fff" stroke="#444" stroke-width="0.6"/>
<ellipse cx="87.08" cy="341.8" rx="1.1" ry="1.35" fill="#fff" stroke="#3a3a3a" stroke-width="0.7"/>
<polygon points="87.08,314.4 85.58,312 88.58,312" fill="#000" stroke="#000" stroke-width="0"/>
<text transform="translate(87.08 386.4) scale(0.93 1)" class="xl">45</text>
<text transform="translate(87.08 377.6) scale(0.84 1)" class="nl">n = 15</text>
<line x1="106.34" y1="298.8" x2="106.34" y2="322.8" stroke="#6a6a6a" stroke-width="0.75"/>
<rect x="102.34" y="303.3" width="8" height="14.2" fill="#fff" stroke="#9c9c9c" stroke-width="0.9"/>
<rect x="103.94" y="297.93" width="4.8" height="1.35" fill="#111"/>
<rect x="103.94" y="320.03" width="4.8" height="1.35" fill="#111"/>
<polygon points="106.34,296.1 107.94,297.6 106.34,299.1 104.74,297.6" fill="#fff" stroke="#444" stroke-width="0.6"/>
<ellipse cx="106.34" cy="324" rx="1.1" ry="1.35" fill="#fff" stroke="#3a3a3a" stroke-width="0.7"/>
<polygon points="106.34,311.2 104.84,308.8 107.84,308.8" fill="#000" stroke="#000" stroke-width="0"/>
<text transform="translate(106.34 386.4) scale(0.93 1)" class="xl">60</text>
<text transform="translate(106.34 377.6) scale(0.84 1)" class="nl">n = 12</text>
<line x1="125.6" y1="298.3" x2="125.6" y2="340.6" stroke="#6a6a6a" stroke-width="0.75"/>
<rect x="121.6" y="300.6" width="8" height="21.3" fill="#fff" stroke="#9c9c9c" stroke-width="0.9"/>
<rect x="123.2" y="297.33" width="4.8" height="1.35" fill="#111"/>
<rect x="123.2" y="331.53" width="4.8" height="1.35" fill="#111"/>
<polygon points="125.6,295.6 127.2,297.1 125.6,298.6 124,297.1" fill="#fff" stroke="#444" stroke-width="0.6"/>
<ellipse cx="125.6" cy="341.8" rx="1.1" ry="1.35" fill="#fff" stroke="#3a3a3a" stroke-width="0.7"/>
<polygon points="125.6,314.4 124.1,312 127.1,312" fill="#000" stroke="#000" stroke-width="0"/>
<text transform="translate(125.6 386.4) scale(0.93 1)" class="xl">75</text>
<text transform="translate(125.6 377.6) scale(0.84 1)" class="nl">n = 12</text>
<line x1="144.86" y1="297.7" x2="144.86" y2="328.3" stroke="#6a6a6a" stroke-width="0.75"/>
<rect x="140.86" y="301.5" width="8" height="14.7" fill="#fff" stroke="#9c9c9c" stroke-width="0.9"/>
<rect x="142.46" y="296.83" width="4.8" height="1.35" fill="#111"/>
<rect x="142.46" y="326.53" width="4.8" height="1.35" fill="#111"/>
<polygon points="144.86,295 146.46,296.5 144.86,298 143.26,296.5" fill="#fff" stroke="#444" stroke-width="0.6"/>
<polygon points="144.86,330.9 143.36,328.5 146.36,328.5" fill="#fff" stroke="#444" stroke-width="0.6"/>
<circle cx="144.86" cy="310.4" r="1.25" fill="#000" stroke="#000" stroke-width="0"/>
<text transform="translate(144.86 386.4) scale(0.93 1)" class="xl">90</text>
<text transform="translate(144.86 377.6) scale(0.84 1)" class="nl">n = 11</text>
<line x1="164.12" y1="298.3" x2="164.12" y2="367.3" stroke="#6a6a6a" stroke-width="0.75"/>
<rect x="160.12" y="306.8" width="8" height="5.3" fill="#fff" stroke="#9c9c9c" stroke-width="0.9"/>
<rect x="161.72" y="298.53" width="4.8" height="1.35" fill="#111"/>
<rect x="161.72" y="330.13" width="4.8" height="1.35" fill="#111"/>
<polygon points="164.12,295.7 162.62,298.1 165.62,298.1" fill="#fff" stroke="#444" stroke-width="0.6"/>
<ellipse cx="164.12" cy="368.5" rx="1.1" ry="1.35" fill="#fff" stroke="#3a3a3a" stroke-width="0.7"/>
<circle cx="164.12" cy="315.3" r="1.25" fill="#000" stroke="#000" stroke-width="0"/>
<text transform="translate(164.12 386.4) scale(0.93 1)" class="xl">105</text>
<text transform="translate(164.12 377.6) scale(0.84 1)" class="nl">n = 8</text>
<line x1="183.38" y1="313.3" x2="183.38" y2="334.8" stroke="#6a6a6a" stroke-width="0.75"/>
<rect x="179.38" y="314.8" width="8" height="15.1" fill="#fff" stroke="#9c9c9c" stroke-width="0.9"/>
<rect x="180.98" y="313.23" width="4.8" height="1.35" fill="#111"/>
<rect x="180.98" y="333.63" width="4.8" height="1.35" fill="#111"/>
<polygon points="183.38,310.7 181.88,313.1 184.88,313.1" fill="#fff" stroke="#444" stroke-width="0.6"/>
<polygon points="183.38,337.4 181.88,335 184.88,335" fill="#fff" stroke="#444" stroke-width="0.6"/>
<circle cx="183.38" cy="321.9" r="1.25" fill="#000" stroke="#000" stroke-width="0"/>
<text transform="translate(183.38 386.4) scale(0.93 1)" class="xl">120</text>
<text transform="translate(183.38 377.6) scale(0.84 1)" class="nl">n = 6</text>
<text id="tt5" x="41.89" y="280.45" class="tt" textLength="107.97" lengthAdjust="spacingAndGlyphs">Pre ductal SpO2 during surgery</text>
<text id="mn5" x="96.45" y="393.73" class="mn" textLength="19.42" lengthAdjust="spacingAndGlyphs">minutes</text>
<text id="yt5" transform="translate(6.32 359.12) rotate(-90)" x="0" y="0" class="yt" textLength="52.24" lengthAdjust="spacingAndGlyphs">pre ductal ΔSpO2 (%)</text>
<line x1="222.2" y1="287.6" x2="398" y2="287.6" stroke="#dadada" stroke-width="0.9"/>
<text x="220.4" y="289.4" class="yl">15</text>
<line x1="222.2" y1="302.72" x2="398" y2="302.72" stroke="#c4c4c4" stroke-width="1.05"/>
<text x="220.4" y="304.52" class="yl">10</text>
<line x1="222.2" y1="317.83" x2="398" y2="317.83" stroke="#dadada" stroke-width="0.9"/>
<text x="220.4" y="319.63" class="yl">5</text>
<line x1="222.2" y1="332.95" x2="398" y2="332.95" stroke="#c4c4c4" stroke-width="1.05"/>
<text x="220.4" y="334.75" class="yl">0</text>
<line x1="222.2" y1="348.07" x2="398" y2="348.07" stroke="#dadada" stroke-width="0.9"/>
<text x="220.4" y="349.87" class="yl">-5</text>
<line x1="222.2" y1="363.18" x2="398" y2="363.18" stroke="#dadada" stroke-width="0.9"/>
<text x="220.4" y="364.98" class="yl">-10</text>
<line x1="222.2" y1="378.3" x2="398" y2="378.3" stroke="#dadada" stroke-width="0.9"/>
<text x="220.4" y="380.1" class="yl">-15</text>
<line x1="223.8" y1="287.6" x2="223.8" y2="378.3" stroke="#d4d4d4" stroke-width="1.3"/>
<line x1="234.72" y1="297.7" x2="234.72" y2="317.8" stroke="#6a6a6a" stroke-width="0.75"/>
<rect x="230.72" y="299.2" width="8" height="16" fill="#fff" stroke="#9c9c9c" stroke-width="0.9"/>
<rect x="232.32" y="296.83" width="4.8" height="1.35" fill="#111"/>
<rect x="232.32" y="316.93" width="4.8" height="1.35" fill="#111"/>
<polygon points="234.72,295 236.32,296.5 234.72,298 233.12,296.5" fill="#fff" stroke="#444" stroke-width="0.6"/>
<polygon points="234.72,320.4 233.22,318 236.22,318" fill="#000" stroke="#000" stroke-width="0"/>
<circle cx="234.72" cy="307.7" r="1.0" fill="#000"/>
<text transform="translate(234.72 386.3) scale(0.93 1)" class="xl">0</text>
<text transform="translate(234.72 377.6) scale(0.84 1)" class="nl">n = 9</text>
<line x1="253.96" y1="297.7" x2="253.96" y2="331.9" stroke="#6a6a6a" stroke-width="0.75"/>
<rect x="249.96" y="299.2" width="8" height="13.3" fill="#fff" stroke="#9c9c9c" stroke-width="0.9"/>
<line x1="251.76" y1="305" x2="256.16" y2="305" stroke="#b5b5b5" stroke-width="0.6"/>
<rect x="251.56" y="296.83" width="4.8" height="1.35" fill="#111"/>
<rect x="251.56" y="319.43" width="4.8" height="1.35" fill="#111"/>
<polygon points="253.96,295 255.56,296.5 253.96,298 252.36,296.5" fill="#fff" stroke="#444" stroke-width="0.6"/>
<ellipse cx="253.96" cy="333.1" rx="1.1" ry="1.35" fill="#fff" stroke="#3a3a3a" stroke-width="0.7"/>
<circle cx="253.96" cy="308.1" r="1.25" fill="#000" stroke="#000" stroke-width="0"/>
<text transform="translate(253.96 386.3) scale(0.93 1)" class="xl">15</text>
<text transform="translate(253.96 377.6) scale(0.84 1)" class="nl">n = 8</text>
<line x1="273.2" y1="297.7" x2="273.2" y2="331.6" stroke="#6a6a6a" stroke-width="0.75"/>
<rect x="269.2" y="303.6" width="8" height="25.9" fill="#fff" stroke="#9c9c9c" stroke-width="0.9"/>
<rect x="270.8" y="297.33" width="4.8" height="1.35" fill="#111"/>
<rect x="270.8" y="331.83" width="4.8" height="1.35" fill="#111"/>
<polygon points="273.2,295.1 271.7,297.5 274.7,297.5" fill="#fff" stroke="#444" stroke-width="0.6"/>
<polygon points="273.2,331.3 274.8,332.8 273.2,334.3 271.6,332.8" fill="#000" stroke="#000" stroke-width="0"/>
<circle cx="273.2" cy="316.2" r="1.25" fill="#000" stroke="#000" stroke-width="0"/>
<text transform="translate(273.2 386.3) scale(0.93 1)" class="xl">30</text>
<text transform="translate(273.2 377.6) scale(0.84 1)" class="nl">n = 6</text>
<line x1="292.44" y1="316" x2="292.44" y2="352.5" stroke="#6a6a6a" stroke-width="0.75"/>
<rect x="288.44" y="319.2" width="8" height="19.1" fill="#fff" stroke="#9c9c9c" stroke-width="0.9"/>
<line x1="290.24" y1="326" x2="294.64" y2="326" stroke="#b5b5b5" stroke-width="0.6"/>
<rect x="290.04" y="315.53" width="4.8" height="1.35" fill="#111"/>
<rect x="290.04" y="346.93" width="4.8" height="1.35" fill="#111"/>
<polygon points="292.44,313.4 290.94,315.8 293.94,315.8" fill="#fff" stroke="#444" stroke-width="0.6"/>
<ellipse cx="292.44" cy="353.7" rx="1.1" ry="1.35" fill="#fff" stroke="#3a3a3a" stroke-width="0.7"/>
<circle cx="292.44" cy="330.4" r="1.25" fill="#000" stroke="#000" stroke-width="0"/>
<text transform="translate(292.44 386.3) scale(0.93 1)" class="xl">45</text>
<text transform="translate(292.44 377.6) scale(0.84 1)" class="nl">n = 4</text>
<line x1="311.68" y1="315.6" x2="311.68" y2="364.9" stroke="#6a6a6a" stroke-width="0.75"/>
<rect x="307.68" y="321.4" width="8" height="12.6" fill="#fff" stroke="#9c9c9c" stroke-width="0.9"/>
<rect x="309.28" y="316.43" width="4.8" height="1.35" fill="#111"/>
<rect x="309.28" y="352.53" width="4.8" height="1.35" fill="#111"/>
<ellipse cx="311.68" cy="314.4" rx="1.1" ry="1.35" fill="#fff" stroke="#3a3a3a" stroke-width="0.7"/>
<ellipse cx="311.68" cy="366.1" rx="1.1" ry="1.35" fill="#fff" stroke="#3a3a3a" stroke-width="0.7"/>
<circle cx="311.68" cy="332.2" r="1.25" fill="#000" stroke="#000" stroke-width="0"/>
<text transform="translate(311.68 386.3) scale(0.93 1)" class="xl">60</text>
<text transform="translate(311.68 377.6) scale(0.84 1)" class="nl">n = 4</text>
<line x1="330.92" y1="315.6" x2="330.92" y2="364.9" stroke="#6a6a6a" stroke-width="0.75"/>
<rect x="326.92" y="314.8" width="8" height="19.5" fill="#fff" stroke="#9c9c9c" stroke-width="0.9"/>
<rect x="328.52" y="314.13" width="4.8" height="1.35" fill="#111"/>
<rect x="328.52" y="352.53" width="4.8" height="1.35" fill="#111"/>
<ellipse cx="330.92" cy="314.4" rx="1.1" ry="1.35" fill="#fff" stroke="#3a3a3a" stroke-width="0.7"/>
<ellipse cx="330.92" cy="366.1" rx="1.1" ry="1.35" fill="#fff" stroke="#3a3a3a" stroke-width="0.7"/>
<circle cx="330.92" cy="330" r="1.25" fill="#000" stroke="#000" stroke-width="0"/>
<text transform="translate(330.92 386.3) scale(0.93 1)" class="xl">75</text>
<text transform="translate(330.92 377.6) scale(0.84 1)" class="nl">n = 4</text>
<line x1="350.16" y1="315.3" x2="350.16" y2="361.6" stroke="#6a6a6a" stroke-width="0.75"/>
<rect x="346.16" y="322.3" width="8" height="23.8" fill="#fff" stroke="#9c9c9c" stroke-width="0.9"/>
<line x1="347.96" y1="329.7" x2="352.36" y2="329.7" stroke="#b5b5b5" stroke-width="0.6"/>
<rect x="347.76" y="316.33" width="4.8" height="1.35" fill="#111"/>
<rect x="347.76" y="355.23" width="4.8" height="1.35" fill="#111"/>
<ellipse cx="350.16" cy="314.1" rx="1.1" ry="1.35" fill="#fff" stroke="#3a3a3a" stroke-width="0.7"/>
<ellipse cx="350.16" cy="362.8" rx="1.1" ry="1.35" fill="#fff" stroke="#3a3a3a" stroke-width="0.7"/>
<circle cx="350.16" cy="335.9" r="1.25" fill="#000" stroke="#000" stroke-width="0"/>
<text transform="translate(350.16 386.3) scale(0.93 1)" class="xl">90</text>
<text transform="translate(350.16 377.6) scale(0.84 1)" class="nl">n = 3</text>
<line x1="369.4" y1="316.1" x2="369.4" y2="367.9" stroke="#6a6a6a" stroke-width="0.75"/>
<rect x="365.4" y="317" width="8" height="27.8" fill="#fff" stroke="#9c9c9c" stroke-width="0.9"/>
<rect x="367" y="315.33" width="4.8" height="1.35" fill="#111"/>
<rect x="367" y="358.53" width="4.8" height="1.35" fill="#111"/>
<ellipse cx="369.4" cy="314.9" rx="1.1" ry="1.35" fill="#fff" stroke="#3a3a3a" stroke-width="0.7"/>
<ellipse cx="369.4" cy="369.1" rx="1.1" ry="1.35" fill="#fff" stroke="#3a3a3a" stroke-width="0.7"/>
<circle cx="369.4" cy="335" r="1.25" fill="#000" stroke="#000" stroke-width="0"/>
<text transform="translate(369.4 386.3) scale(0.93 1)" class="xl">105</text>
<text transform="translate(369.4 377.6) scale(0.84 1)" class="nl">n = 3</text>
<line x1="388.64" y1="315.6" x2="388.64" y2="331.8" stroke="#6a6a6a" stroke-width="0.75"/>
<rect x="384.64" y="323.9" width="8" height="9.5" fill="#fff" stroke="#9c9c9c" stroke-width="0.9"/>
<rect x="386.24" y="316.73" width="4.8" height="1.35" fill="#111"/>
<rect x="386.24" y="332.83" width="4.8" height="1.35" fill="#111"/>
<ellipse cx="388.64" cy="314.4" rx="1.1" ry="1.35" fill="#fff" stroke="#3a3a3a" stroke-width="0.7"/>
<ellipse cx="388.64" cy="333" rx="1.1" ry="1.35" fill="#fff" stroke="#3a3a3a" stroke-width="0.7"/>
<circle cx="388.64" cy="326.7" r="1.25" fill="#000" stroke="#000" stroke-width="0"/>
<text transform="translate(388.64 386.3) scale(0.93 1)" class="xl">120</text>
<text transform="translate(388.64 377.6) scale(0.84 1)" class="nl">n = 3</text>
<text id="tt6" x="245.62" y="279.84" class="tt" textLength="111.87" lengthAdjust="spacingAndGlyphs">Post ductal SpO2 during surgery</text>
<text id="mn6" x="301.89" y="394.01" class="mn" textLength="19.32" lengthAdjust="spacingAndGlyphs">minutes</text>
<text id="yt6" transform="translate(211.01 360.35) rotate(-90)" x="0" y="0" class="yt" textLength="55.12" lengthAdjust="spacingAndGlyphs">post ductal ΔSpO2 (%)</text>
</svg>
</body></html>
